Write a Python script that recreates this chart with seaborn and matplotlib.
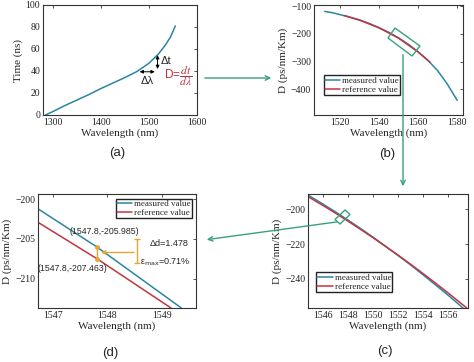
import matplotlib
matplotlib.use("Agg")
import numpy as np
import pandas as pd
import matplotlib.pyplot as plt
import seaborn as sns
from matplotlib.patches import Polygon, FancyArrowPatch

# ---- data ----
# (a) delay time vs wavelength
a_wl = [1285, 1300, 1325, 1350, 1375, 1400, 1425, 1450, 1475, 1500, 1520, 1535, 1545, 1555]
a_time = [0, 3, 8.5, 13.5, 18.5, 24, 29, 34, 39.5, 47, 55.5, 64, 71, 81]

# (b) dispersion over the whole band
b_wl_meas = [1512, 1516, 1520, 1525, 1530, 1535, 1540, 1545, 1550, 1555, 1560, 1565, 1570, 1575, 1580]
b_D_meas = [-119, -124, -131, -140, -150, -163, -178, -195, -215, -238, -265, -296, -333, -382, -440]
b_wl_ref = [1522, 1530, 1540, 1550, 1560, 1566]
b_D_ref = [-134, -151, -179, -216, -266, -302]

# (c) zoom around 1550 nm
c_wl_meas = [1544.8, 1546, 1547, 1548, 1549, 1550, 1551, 1552, 1553, 1554, 1555, 1556, 1557.2]
c_D_meas = [-191.8, -197.0, -201.5, -206.2, -211.0, -216.0, -221.2, -226.5, -231.9, -237.6, -243.4, -249.3, -256.7]
c_wl_ref = [1544.8, 1546, 1547, 1548, 1549, 1550, 1551, 1552, 1553, 1554, 1555, 1556, 1557.5]
c_D_ref = [-192.7, -197.8, -202.2, -206.8, -211.5, -216.3, -221.3, -226.3, -231.5, -236.9, -242.4, -248.0, -256.7]

# (d) zoom around 1548 nm
d_wl_meas = [1546.72, 1547.8, 1549.36]
d_D_meas = [-201.2, -205.985, -213.7]
d_wl_ref = [1546.72, 1547.8, 1549.17]
d_D_ref = [-202.9, -207.463, -213.7]
d_pt_wl = [1547.8, 1547.8]
d_pt_D = [-205.985, -207.463]

MEAS = "#2a86a0"
REF = "#c23440"
GREEN = "#3aa07c"
ORANGE = "#e6a533"

sns.set_theme(style="white")
plt.rcParams["font.family"] = ["Liberation Serif", "DejaVu Serif"]
plt.rcParams["axes.edgecolor"] = "#333333"
plt.rcParams["axes.linewidth"] = 0.8

W, H = 474, 362
fig = plt.figure(figsize=(W / 100, H / 100), dpi=100)


def rect(l, t, r, b):
    return [l / W, 1 - b / H, (r - l) / W, (b - t) / H]


def fp(x, y):
    return (x / W, 1 - y / H)


def style(ax):
    ax.tick_params(direction="in", top=True, right=True, length=2.5, width=0.6,
                   labelsize=7, pad=2, colors="#333333", labelcolor="#222222")
    for s in ax.spines.values():
        s.set_visible(True)


def leg(ax, **kw):
    lg = ax.legend(fontsize=6.5, frameon=True, fancybox=False, edgecolor="#222222",
                   framealpha=1, handlelength=1.7, handletextpad=0.2,
                   borderpad=0.15, labelspacing=0.05, borderaxespad=0, **kw)
    lg.get_frame().set_linewidth(1.0)


ax_a = fig.add_axes(rect(43, 5, 197, 115))
ax_b = fig.add_axes(rect(314, 5, 463, 115))
ax_c = fig.add_axes(rect(308, 194, 468, 308))
ax_d = fig.add_axes(rect(38, 194, 196, 308))

# ---- (a) ----
sns.lineplot(x=a_wl, y=a_time, ax=ax_a, color=MEAS, lw=1.1)
ax_a.set_xlim(1280, 1600)
ax_a.set_ylim(0, 100)
ax_a.set_xticks([1300, 1400, 1500, 1600])
ax_a.set_yticks([0, 20, 40, 60, 80, 100])
ax_a.set_xlabel("Wavelength (nm)", fontsize=8, labelpad=1)
ax_a.set_ylabel("Time (ns)", fontsize=8, labelpad=2)
style(ax_a)
ax_a.annotate("", xy=(1475, 39.3), xytext=(1518, 39.3),
              arrowprops=dict(arrowstyle="<|-|>", lw=0.7, color="black", mutation_scale=5))
ax_a.annotate("", xy=(1518, 39.3), xytext=(1518, 57),
              arrowprops=dict(arrowstyle="<|-|>", lw=0.7, color="black", mutation_scale=5))
ax_a.text(1525, 49, "Δt", family="Liberation Sans", fontsize=8, va="center")
ax_a.text(1497, 31, "Δλ", family="Liberation Sans", fontsize=8, ha="center", va="center")
ax_a.text(1532, 35, r"D=$\dfrac{dt}{d\lambda}$", family="Liberation Sans", fontsize=8.5,
          color="#b8333d", va="center", math_fontfamily="stix")

# ---- (b) ----
sns.lineplot(x=b_wl_meas, y=b_D_meas, ax=ax_b, color=MEAS, lw=1.1, label="measured value")
sns.lineplot(x=b_wl_ref, y=b_D_ref, ax=ax_b, color=REF, lw=1.1, label="reference value")
ax_b.set_xlim(1506.5, 1583)
ax_b.set_ylim(-493, -96)
ax_b.set_xticks([1520, 1540, 1560, 1580])
ax_b.set_yticks([-100, -200, -300, -400])
ax_b.set_xlabel("Wavelength (nm)", fontsize=8, labelpad=1)
ax_b.set_ylabel("D (ps/nm/Km)", fontsize=8, labelpad=2)
style(ax_b)
leg(ax_b, loc="lower left", bbox_to_anchor=(0.065, 0.18))

# ---- (c) ----
sns.lineplot(x=c_wl_meas, y=c_D_meas, ax=ax_c, color=MEAS, lw=1.1, label="measured value")
sns.lineplot(x=c_wl_ref, y=c_D_ref, ax=ax_c, color=REF, lw=1.1, label="reference value")
ax_c.set_xlim(1544.8, 1557.6)
ax_c.set_ylim(-256.7, -191.2)
ax_c.set_xticks([1546, 1548, 1550, 1552, 1554, 1556])
ax_c.set_yticks([-200, -220, -240])
ax_c.set_xlabel("Wavelength (nm)", fontsize=8, labelpad=1)
ax_c.set_ylabel("D (ps/nm/Km)", fontsize=8, labelpad=2)
style(ax_c)
leg(ax_c, loc="lower left", bbox_to_anchor=(0.05, 0.14))

# ---- (d) ----
sns.lineplot(x=d_wl_meas, y=d_D_meas, ax=ax_d, color=MEAS, lw=1.1, label="measured value")
sns.lineplot(x=d_wl_ref, y=d_D_ref, ax=ax_d, color=REF, lw=1.1, label="reference value")
ax_d.set_xlim(1546.72, 1549.63)
ax_d.set_ylim(-213.7, -199.33)
ax_d.set_xticks([1547, 1548, 1549])
ax_d.set_yticks([-200, -205, -210])
ax_d.set_xlabel("Wavelength (nm)", fontsize=8, labelpad=1)
ax_d.set_ylabel("D (ps/nm/Km)", fontsize=8, labelpad=2)
style(ax_d)
leg(ax_d, loc="upper right", bbox_to_anchor=(0.975, 0.96))

ax_d.plot(d_pt_wl, d_pt_D, color=ORANGE, lw=1.0, marker="o", ms=2.5)
ax_d.plot([1548.54, 1548.54], [-205.04, -208.07], color=ORANGE, lw=1.0, marker="_", ms=4)
ax_d.annotate("", xy=(1547.83, -206.7), xytext=(1548.54, -206.7),
              arrowprops=dict(arrowstyle="->", lw=1.0, color=ORANGE, mutation_scale=6))
ax_d.text(1547.95, -204.1, "(1547.8,-205.985)", family="Liberation Sans", fontsize=6.3,
          ha="center", va="center")
ax_d.text(1547.36, -208.7, "(1547.8,-207.463)", family="Liberation Sans", fontsize=6.3,
          ha="center", va="center")
ax_d.text(1549.14, -205.6, "Δd=1.478", family="Liberation Sans", fontsize=6.5,
          ha="center", va="center")
ax_d.text(1549.06, -207.9, "ε$_{\\rm max}$=0.71%", family="Liberation Sans", fontsize=6.5,
          ha="center", va="center", math_fontfamily="dejavusans")

# ---- connectors between panels ----
box_b = [(395, 28), (420, 46), (412, 56), (388, 38)]
box_c = [(345, 210), (350, 214.5), (340, 224), (335, 219.5)]
for box in (box_b, box_c):
    fig.add_artist(Polygon([fp(*p) for p in box], closed=True, fill=False,
                           edgecolor=GREEN, lw=1.0, transform=fig.transFigure))

for start, end in [((202, 78), (274, 78)), ((403, 52), (403, 189)), ((340, 221.5), (204, 240))]:
    fig.add_artist(FancyArrowPatch(fp(*start), fp(*end), transform=fig.transFigure,
                                   arrowstyle="->", mutation_scale=8, color=GREEN, lw=1.0))

# ---- panel labels ----
for lbl, (x, y) in zip(["(a)", "(b)", "(c)", "(d)"], [(117, 153), (387, 154), (385, 351), (110, 353)]):
    fig.text(x / W, 1 - y / H, lbl, family="Liberation Sans", fontsize=9.5,
             ha="center", va="center")

fig.savefig("out.png", dpi=100)
